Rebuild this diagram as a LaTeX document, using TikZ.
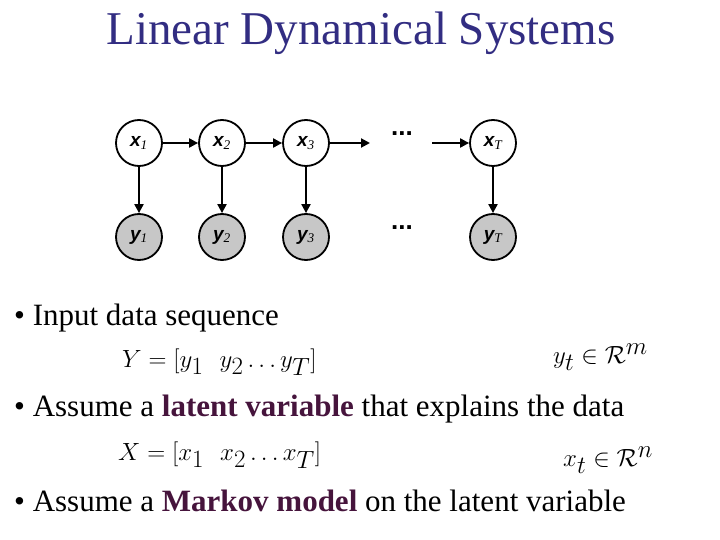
\documentclass[tikz,border=0pt]{standalone}
\usepackage{fontspec}
\setmainfont{Liberation Serif}
\newfontfamily\arialb{Liberation Sans}
\usetikzlibrary{arrows.meta}
\definecolor{titleblue}{RGB}{50,45,130}
\definecolor{emph}{RGB}{70,20,60}
\begin{document}
\begin{tikzpicture}[x=1pt,y=-1pt,
  lat/.style={circle,draw,line width=1.8pt,minimum size=46pt,inner sep=0pt,font=\arialb\bfseries\itshape\fontsize{19}{19}\selectfont},
  obs/.style={lat,fill=black!22},
  arr/.style={-{Triangle[length=9pt,width=9pt]},line width=2pt},
  txt/.style={anchor=west,font=\fontsize{31}{33}\selectfont,inner sep=0pt},
  mth/.style={anchor=west,inner sep=0pt,font=\fontsize{48}{50}\selectfont}]
\useasboundingbox (0,0) rectangle (720,540);
\node[font=\fontsize{47}{50}\selectfont,text=titleblue] (title) at (361,33) {Linear Dynamical Systems};
\node[lat] (x1) at (139,143) {x$_{\mathit 1}$};
\node[lat] (x2) at (222,143) {x$_{\mathit 2}$};
\node[lat] (x3) at (306,143) {x$_{\mathit 3}$};
\node[lat] (xT) at (493,143) {x$_{\mathit T}$};
\node[obs] (y1) at (139,237) {y$_{\mathit 1}$};
\node[obs] (y2) at (222,237) {y$_{\mathit 2}$};
\node[obs] (y3) at (306,237) {y$_{\mathit 3}$};
\node[obs] (yT) at (493,237) {y$_{\mathit T}$};
\node[font=\arialb\bfseries\fontsize{26}{26}\selectfont] (d1) at (402,134) {...};
\node[font=\arialb\bfseries\fontsize{26}{26}\selectfont] (d2) at (402,228) {...};
\coordinate (a3) at (370,143);
\coordinate (aT) at (432,143);
\draw[arr] (x1) -- (x2);
\draw[arr] (x2) -- (x3);
\draw[arr] (x3) -- (a3);
\draw[arr] (aT) -- (xT);
\foreach \i in {1,2,3,T} \draw[arr] (x\i) -- (y\i);
\node[txt] (b1) at (14,318) {\textbullet\ Input data sequence};
\node[mth] (m1) at (122,362) {$Y=[y_1\ \,y_2\ldots y_T]$};
\node[mth] (m2) at (553,357) {$y_t\in\mathcal{R}^m$};
\node[txt] (b2) at (14,409) {\textbullet\ Assume a \textcolor{emph}{\textbf{latent variable}} that explains the data};
\node[mth] (m3) at (118,455) {$X=[x_1\ \,x_2\ldots x_T]$};
\node[mth] (m4) at (563,460) {$x_t\in\mathcal{R}^n$};
\node[txt] (b3) at (14,501) {\textbullet\ Assume a \textcolor{emph}{\textbf{Markov model}} on the latent variable};
\end{tikzpicture}
\end{document}
